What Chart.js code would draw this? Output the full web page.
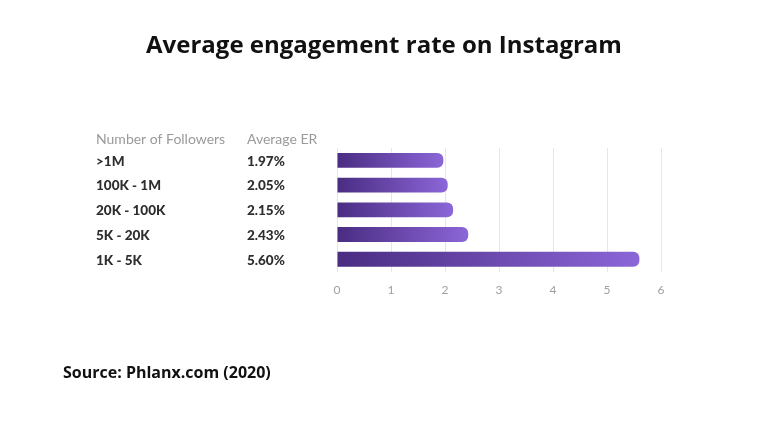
<!DOCTYPE html>
<html>
<head>
<meta charset="utf-8">
<script src="https://cdn.jsdelivr.net/npm/chart.js@4"></script>
<style>
  html, body { margin: 0; padding: 0; background: #fff; }
  #wrap { position: relative; width: 768px; height: 434px; overflow: hidden; }
  #title {
    position: absolute; left: 0; top: 27px; width: 768px; text-align: center;
    font-family: "Open Sans", sans-serif; font-weight: 700; font-size: 24px; color: #111;
  }
  #source {
    position: absolute; left: 63px; top: 361px;
    font-family: "Open Sans", sans-serif; font-weight: 700; font-size: 16px; color: #111;
  }
  #chartBox { position: absolute; left: 0; top: 0; width: 768px; height: 434px; }
</style>
</head>
<body>
<div id="wrap">
  <div id="chartBox"><canvas id="erChart"></canvas></div>
  <div id="title">Average engagement rate on Instagram</div>
  <div id="source">Source: Phlanx.com (2020)</div>
</div>
<script>
// data
const followerTiers = [">1M", "100K - 1M", "20K - 100K", "5K - 20K", "1K - 5K"];
const avgER = [1.97, 2.05, 2.15, 2.43, 5.6];
const erLabels = ["1.97%", "2.05%", "2.15%", "2.43%", "5.60%"];
const columnHeaders = ["Number of Followers", "Average ER"];

// each bar fades from dark to light purple along its own length
const barGradient = (context) => {
  const chart = context.chart;
  const { ctx, chartArea, scales } = chart;
  if (!chartArea) return "#6a4bb0";
  const end = scales.x.getPixelForValue(context.raw);
  const g = ctx.createLinearGradient(chartArea.left, 0, end, 0);
  g.addColorStop(0, "#4a2c82");
  g.addColorStop(1, "#8b66d8");
  return g;
};

// draws the two text columns to the left of the bars
const tableColumns = {
  id: "tableColumns",
  afterDraw(chart) {
    const { ctx, scales } = chart;
    ctx.save();
    ctx.textBaseline = "middle";
    ctx.textAlign = "left";
    ctx.font = "14px Lato";
    ctx.fillStyle = "#9a9a9a";
    ctx.fillText(columnHeaders[0], 96, 139);
    ctx.fillText(columnHeaders[1], 247, 139);
    ctx.font = "900 13.5px Lato";
    ctx.fillStyle = "#2e2e2e";
    followerTiers.forEach((tier, i) => {
      const y = scales.y.getPixelForValue(i) + 1;
      ctx.fillText(tier, 96, y);
      ctx.fillText(erLabels[i], 247, y);
    });
    ctx.restore();
  },
};

const ctx = document.getElementById("erChart").getContext("2d");
new Chart(ctx, {
  type: "bar",
  data: {
    labels: followerTiers,
    datasets: [
      {
        data: avgER,
        backgroundColor: barGradient,
        borderRadius: 6,
        borderSkipped: "start",
        barPercentage: 0.6,
        categoryPercentage: 1,
      },
    ],
  },
  options: {
    indexAxis: "y",
    responsive: true,
    maintainAspectRatio: false,
    animation: false,
    layout: {
      padding: { left: 337, right: 107, top: 148, bottom: 126 },
    },
    plugins: {
      legend: { display: false },
      tooltip: { enabled: false },
    },
    scales: {
      x: {
        min: 0,
        max: 6,
        ticks: {
          stepSize: 1,
          color: "#a0a0a0",
          padding: 11,
          font: { family: "Lato", size: 12 },
        },
        grid: { color: "#e6e6e6", drawTicks: false },
        border: { display: false },
      },
      y: {
        display: false,
      },
    },
  },
  plugins: [tableColumns],
});
</script>
</body>
</html>
